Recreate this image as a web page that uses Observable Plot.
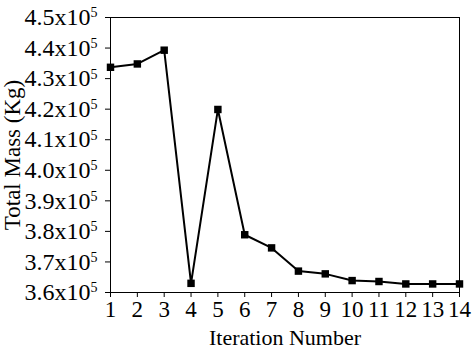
<!DOCTYPE html>
<html>
<head>
<meta charset="utf-8">
<script src="https://cdn.jsdelivr.net/npm/d3@7"></script>
<script src="https://cdn.jsdelivr.net/npm/@observablehq/plot@0.6"></script>
<style>
  html, body { margin: 0; padding: 0; background: #fff; }
</style>
</head>
<body>
<div id="chart"></div>
<script>
const iterations = [1, 2, 3, 4, 5, 6, 7, 8, 9, 10, 11, 12, 13, 14];
const totalMass = [433700, 434800, 439300, 363000, 419900, 378900, 374600, 367000, 366100, 363900, 363600, 362800, 362800, 362800];
const yTicks = [360000, 370000, 380000, 390000, 400000, 410000, 420000, 430000, 440000, 450000];

const data = iterations.map((it, i) => ({iteration: it, mass: totalMass[i]}));

const chart = Plot.plot({
  width: 474,
  height: 348,
  marginLeft: 110,
  marginRight: 15,
  marginTop: 17,
  marginBottom: 56,
  style: {fontFamily: "Liberation Serif", fontSize: "24px", color: "black", background: "white"},
  x: {domain: [1, 14], label: null},
  y: {domain: [360000, 450000], label: null},
  marks: [
    Plot.frame({stroke: "black", strokeWidth: 1}),
    Plot.axisX({ticks: iterations, tickFormat: d => String(d), tickSize: 5, tickPadding: 3, fontSize: 23,
      label: null}),
    Plot.axisX({ticks: [], tickSize: 0, label: "Iteration Number", labelAnchor: "center", labelArrow: "none",
      labelOffset: 52, fontSize: 22}),
    Plot.axisY({ticks: yTicks, tickFormat: d => (d / 1e5).toFixed(1) + "x10", tickSize: 5, tickPadding: 8, fontSize: 24,
      label: null}),
    Plot.axisY({ticks: [], tickSize: 0, label: "Total Mass (Kg)", labelAnchor: "center", labelArrow: "none",
      labelOffset: 107, fontSize: 23}),
    Plot.line(data, {x: "iteration", y: "mass", stroke: "black", strokeWidth: 2}),
    Plot.dot(data, {x: "iteration", y: "mass", symbol: "square", r: 4.2, fill: "black", stroke: "none"})
  ]
});

const svgns = "http://www.w3.org/2000/svg";
chart.querySelectorAll('g[aria-label="y-axis tick label"] text').forEach(t => {
  const ts = document.createElementNS(svgns, "tspan");
  ts.setAttribute("dy", "-0.55em");
  ts.setAttribute("font-size", "14px");
  ts.textContent = "5";
  t.appendChild(ts);
});

document.getElementById("chart").appendChild(chart);
</script>
</body>
</html>
